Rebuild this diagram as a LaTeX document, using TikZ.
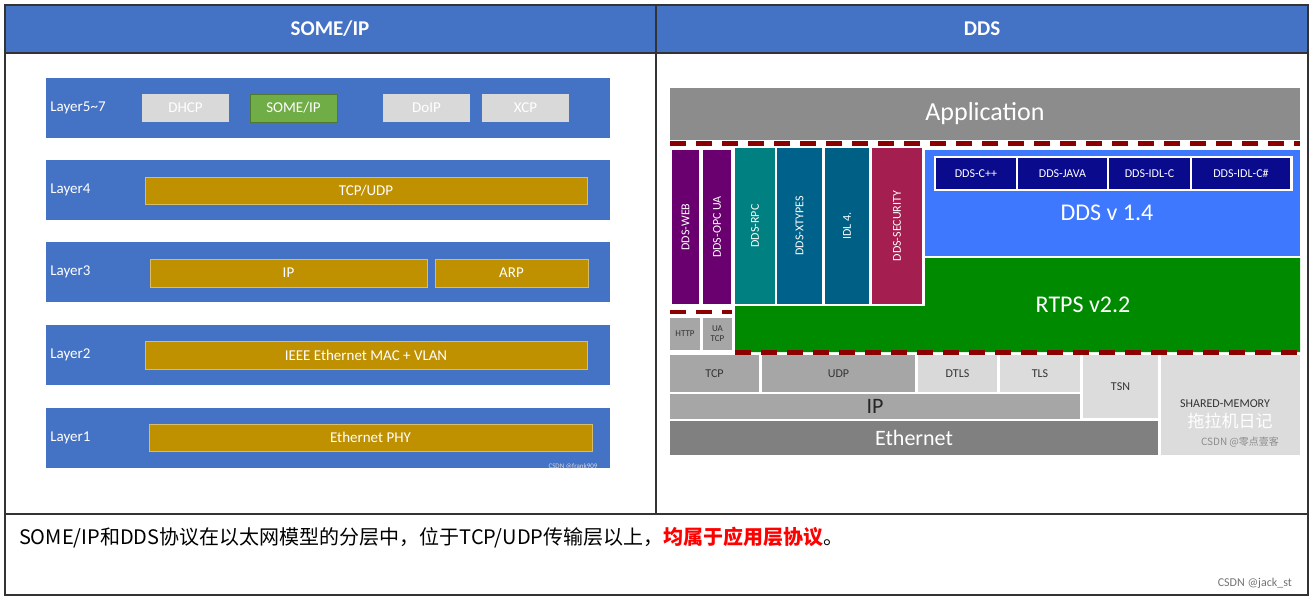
\documentclass[tikz,border=0pt]{standalone}
\usepackage{fontspec}
\setmainfont{Carlito}
\newfontfamily\cjk{Noto Sans CJK SC}
\usepackage{xcolor}
\definecolor{hdrblue}{HTML}{4472C4}
\definecolor{gold}{HTML}{BF9000}
\definecolor{ltgray}{HTML}{D9D9D9}
\definecolor{dgreen}{HTML}{70AD47}
\definecolor{appgray}{HTML}{8C8C8C}
\definecolor{midgray}{HTML}{A6A6A6}
\definecolor{ethgray}{HTML}{808080}
\definecolor{paleg}{HTML}{DCDCDC}
\definecolor{purp}{HTML}{6A006F}
\definecolor{teal2}{HTML}{008080}
\definecolor{petrol}{HTML}{00628A}
\definecolor{petrol2}{HTML}{005F85}
\definecolor{secred}{HTML}{A51E50}
\definecolor{ddsblue}{HTML}{3D78FF}
\definecolor{navy2}{HTML}{0A0A8C}
\definecolor{rtps}{HTML}{008A00}
\definecolor{dashred}{HTML}{8B0000}
% cell: name, fill/draw options, corner, corner, text options, text
\newcommand{\cell}[6]{\fill[#2] (#3) rectangle (#4) coordinate[pos=.5] (#1-c);
  \node[#5] (#1) at (#1-c) {#6};}
\begin{document}
\begin{tikzpicture}[x=0.5pt,y=-0.5pt,
  lay/.style={text=white,font=\fontsize{7.5}{9}\selectfont},
  lbl/.style={text=white,font=\fontsize{7.5}{9}\selectfont,anchor=west,inner sep=0pt},
  dds/.style={text=white,font=\fontsize{6}{7}\selectfont},
  big/.style={text=white,font=\fontsize{13}{15}\selectfont},
  dk/.style={text=black!80,font=\fontsize{6}{7}\selectfont},
  reddash/.style={dashred,line width=2.5pt,dash pattern=on 8pt off 5pt}]
\useasboundingbox (0,0) rectangle (1313,600);
\fill[white] (0,0) rectangle (1313,600);
% header
\fill[hdrblue] (5,5) rectangle (1308,53);
\node[text=white,font=\bfseries\fontsize{10.5}{12}\selectfont] (hsome) at (330,29) {SOME/IP};
\node[text=white,font=\bfseries\fontsize{10.5}{12}\selectfont] (hdds) at (982,29) {DDS};
\draw[black!80,line width=0.6pt] (5,5) rectangle (1308,595) (656,5) -- (656,514) (5,53) -- (1308,53) (5,514) -- (1308,514);

% SOME/IP layers
\foreach \n/\y/\t in {l5/78/Layer5\textasciitilde7,l4/160/Layer4,l3/242/Layer3,l2/325/Layer2,l1/408/Layer1}{
  \fill[hdrblue] (46,\y) rectangle (610,\y+60);
  \node[lbl] (\n) at (50,\y+30) {\t};
}
\cell{dhcp}{ltgray}{142,94}{229,122}{lay}{DHCP}
\cell{someip}{dgreen,draw=dgreen!70!black}{250,94}{337,122}{lay}{SOME/IP}
\cell{doip}{ltgray}{383,94}{470,122}{lay}{DoIP}
\cell{xcp}{ltgray}{482,94}{569,122}{lay}{XCP}
\cell{tcpudp}{gold,draw=gold!60!white}{145,177}{587,204}{lay}{TCP/UDP}
\cell{ip}{gold,draw=gold!60!white}{150,259}{427,287}{lay}{IP}
\cell{arp}{gold,draw=gold!60!white}{435,259}{588,287}{lay}{ARP}
\cell{mac}{gold,draw=gold!60!white}{145,341}{587,369}{lay}{IEEE Ethernet MAC + VLAN}
\cell{phy}{gold,draw=gold!60!white}{149,424}{592,451}{lay}{Ethernet PHY}
\node[text=white!85!black,font=\fontsize{3.5}{4}\selectfont] (wm1) at (573,466) {CSDN @frank909};

% DDS stack
\cell{app}{appgray}{670,88}{1300,140}{big}{Application}
\draw[reddash] (670,143) -- (1300,143);
\cell{web}{purp}{672,150}{699,304}{dds,rotate=90}{DDS-WEB}
\cell{opc}{purp}{703,150}{731,304}{dds,rotate=90}{DDS-OPC UA}
\cell{rpc}{teal2}{735,148}{775,304}{dds,rotate=90}{DDS-RPC}
\cell{xtyp}{petrol}{777,148}{822,304}{dds,rotate=90}{DDS-XTYPES}
\cell{idl}{petrol2}{825,148}{869,304}{dds,rotate=90}{IDL 4.}
\cell{sec}{secred}{872,148}{922,304}{dds,rotate=90}{DDS-SECURITY}
\fill[ddsblue] (925,150) rectangle (1300,256);
\fill[white] (934,156) rectangle (1293,191);
\cell{cpp}{navy2}{936,158}{1016,189}{dds}{DDS-C++}
\cell{java}{navy2}{1018,158}{1107,189}{dds}{DDS-JAVA}
\cell{idlc}{navy2}{1109,158}{1190,189}{dds}{DDS-IDL-C}
\cell{idlcs}{navy2}{1192,158}{1290,189}{dds}{DDS-IDL-C\#}
\node[big,font=\fontsize{12}{14}\selectfont] (dds14) at (1107,213) {DDS v 1.4};
\fill[rtps] (925,258) rectangle (1300,352) (735,306) rectangle (925,352);
\node[big,font=\fontsize{12}{13}\selectfont] (rtps) at (1083,305) {RTPS v2.2};
\draw[reddash,line width=2pt] (670,312) -- (732,312);
\cell{http}{midgray}{670,318}{700,350}{dk,font=\fontsize{4.5}{5}\selectfont}{HTTP}
\cell{uatcp}{midgray}{703,318}{732,350}{dk,font=\fontsize{4.5}{5}\selectfont,align=center}{UA\\TCP}
\draw[reddash] (735,352) -- (1300,352);
\cell{tcp}{midgray}{670,355}{759,392}{dk}{TCP}
\cell{udp}{midgray}{762,355}{915,392}{dk}{UDP}
\cell{dtls}{ltgray}{918,355}{997,392}{dk}{DTLS}
\cell{tls}{paleg}{1000,355}{1080,392}{dk}{TLS}
\cell{tsn}{paleg}{1083,355}{1158,418}{dk}{TSN}
\fill[paleg] (1161,355) rectangle (1300,455);
\node[dk] (shm) at (1225,404) {SHARED-MEMORY};
\node[text=white,font=\cjk\fontsize{8.5}{9}\selectfont] (wm2) at (1230,421) {拖拉机日记};
\node[text=black!45,font=\cjk\fontsize{5}{6}\selectfont] (wm3) at (1240,442) {CSDN @零点壹客};
\cell{ipd}{midgray}{670,394}{1080,419}{big,text=black!85,font=\fontsize{11}{12}\selectfont}{IP}
\cell{eth}{ethgray}{670,421}{1158,455}{big,font=\fontsize{11}{12}\selectfont}{Ethernet}

% bottom line
\node[anchor=west,font=\cjk\fontsize{10}{12}\selectfont] (note) at (12,538)
  {SOME/IP和DDS协议在以太网模型的分层中，位于TCP/UDP传输层以上，{\color{red}\bfseries 均属于应用层协议}。};
\node[anchor=east,text=black!55,font=\fontsize{6}{7}\selectfont] (wm4) at (1299,583) {CSDN @jack\_st};
\end{tikzpicture}
\end{document}
